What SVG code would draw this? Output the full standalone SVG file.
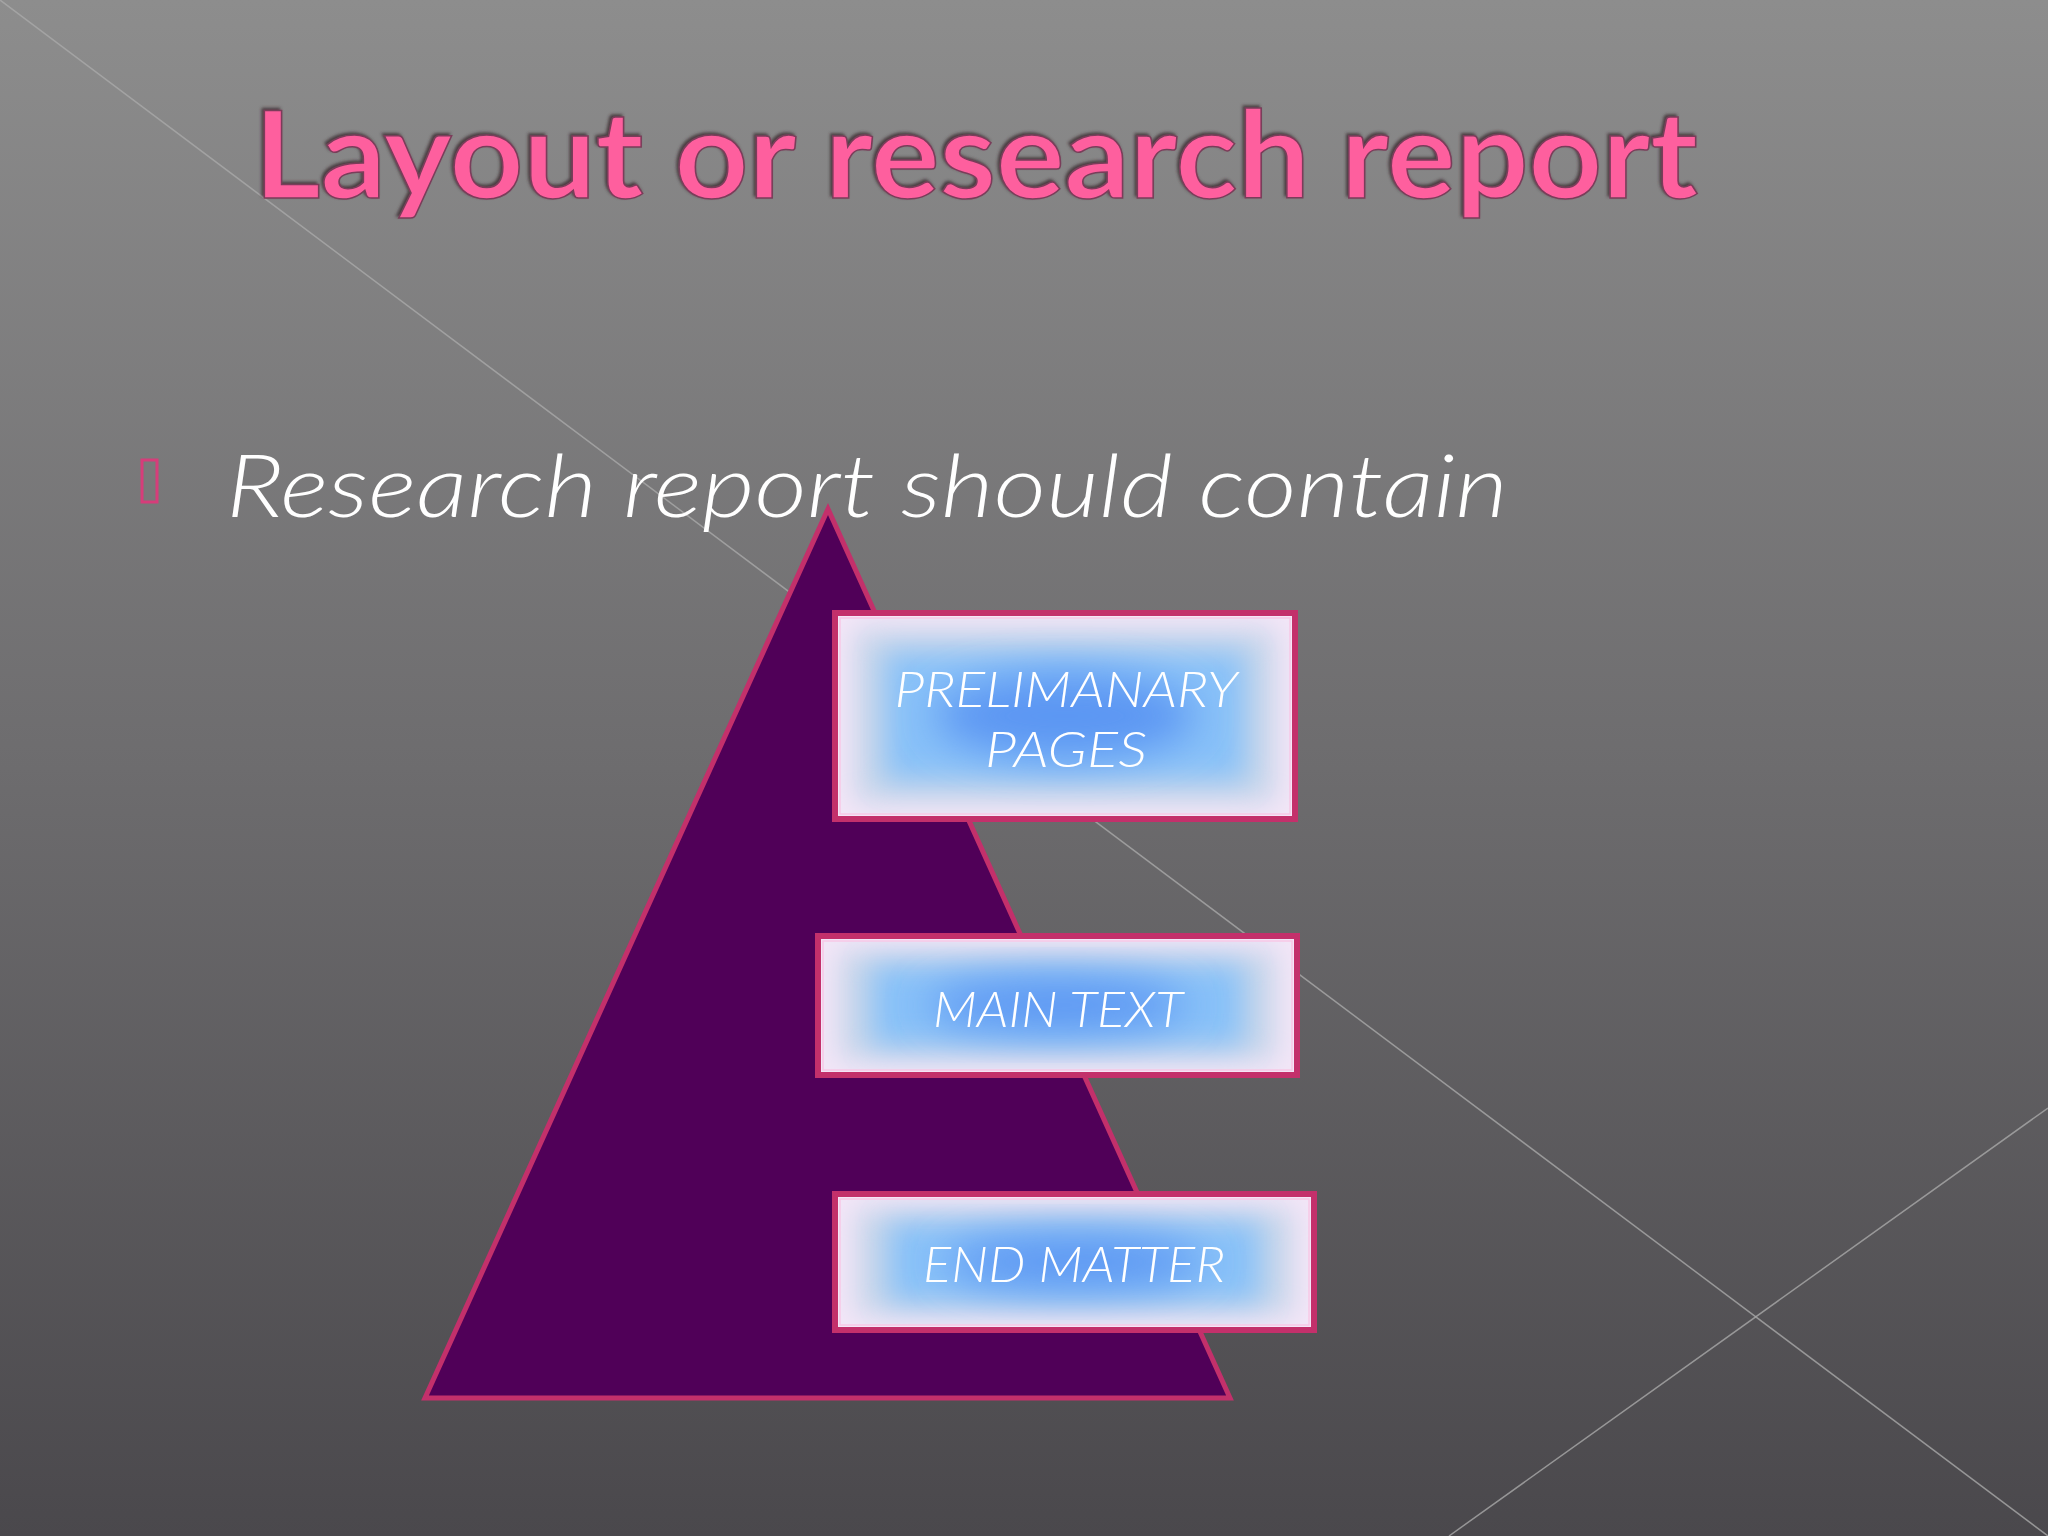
<svg xmlns="http://www.w3.org/2000/svg" width="2048" height="1536" viewBox="0 0 2048 1536">
<defs>
<linearGradient id="bg" x1="0" y1="0" x2="0" y2="1">
<stop offset="0" stop-color="#8d8d8d"/>
<stop offset="0.5" stop-color="#6d6c6e"/>
<stop offset="1" stop-color="#4a484c"/>
</linearGradient>
<filter id="soft" x="-30%" y="-40%" width="160%" height="180%">
<feGaussianBlur stdDeviation="14"/>
</filter>
<filter id="soft2" x="-40%" y="-60%" width="180%" height="220%">
<feGaussianBlur stdDeviation="20"/>
</filter>
<clipPath id="c1"><rect x="840" y="618" width="450" height="196"/></clipPath>
<clipPath id="c2"><rect x="823" y="941" width="469" height="129"/></clipPath>
<clipPath id="c3"><rect x="840" y="1199" width="469" height="126"/></clipPath>
<filter id="tsh" x="-5%" y="-20%" width="110%" height="140%">
<feDropShadow dx="-2" dy="-2" stdDeviation="1.5" flood-color="#3a2a33" flood-opacity="0.8"/>
</filter>
<style>
.diag{stroke:#a9a9a9;stroke-width:1.5;fill:none;opacity:0.8}
.box{fill:#f3e6f7;stroke:#c3306b;stroke-width:6}
.inner{fill:none;stroke:#f7c8e6;stroke-width:1.5}
.gb{fill:#c6d6ea}
.lb{fill:#88c1f8}
.cb{fill:#5b96f3}
.lbl{font-family:"Lato","Open Sans","Liberation Sans",sans-serif;font-style:italic;font-weight:300;font-size:50px;fill:#ffffff;text-anchor:middle}
</style>
</defs>
<rect width="2048" height="1536" fill="url(#bg)"/>
<g id="connectors">
<line class="diag" x1="0" y1="0" x2="2048" y2="1536"/>
<line class="diag" x1="2048" y1="1108" x2="1449" y2="1536"/>
</g>
<g id="title">
<text x="254" y="198" textLength="1444" lengthAdjust="spacingAndGlyphs" font-family="'Lato','DejaVu Sans','Liberation Sans',sans-serif" font-weight="bold" font-size="121" fill="#fe5f9e" stroke="#7a3e5a" stroke-width="1.5" filter="url(#tsh)">Layout or research report</text>
</g>
<g id="bullet">
<rect x="142" y="460" width="15" height="42" fill="none" stroke="#d63d7a" stroke-width="3"/>
<text x="226" y="517" textLength="1282" lengthAdjust="spacingAndGlyphs" font-family="'Lato','Open Sans','Liberation Sans',sans-serif" font-style="italic" font-weight="300" font-size="86" fill="#ffffff">Research report should contain</text>
</g>
<g id="pyramid">
<polygon points="828,509 425,1398 1230,1398" fill="#500058" stroke="#c3306b" stroke-width="5"/>
</g>
<g id="node-preliminary">
<rect class="box" x="835" y="613" width="460" height="206"/>
<g clip-path="url(#c1)">
<rect class="gb" x="855" y="630" width="420" height="172" filter="url(#soft)"/>
<rect class="lb" x="885" y="652" width="360" height="128" filter="url(#soft)"/>
<ellipse class="cb" cx="1065" cy="716" rx="130" ry="42" filter="url(#soft2)"/>
</g>
<rect class="inner" x="840" y="618" width="450" height="196"/>
<text class="lbl" x="1066" y="707" textLength="343" lengthAdjust="spacingAndGlyphs">PRELIMANARY</text>
<text class="lbl" x="1066" y="767" textLength="162" lengthAdjust="spacingAndGlyphs">PAGES</text>
</g>
<g id="node-main">
<rect class="box" x="818" y="936" width="479" height="139"/>
<g clip-path="url(#c2)">
<rect class="gb" x="840" y="951" width="435" height="109" filter="url(#soft)"/>
<rect class="lb" x="872" y="965" width="371" height="81" filter="url(#soft)"/>
<ellipse class="cb" cx="1057" cy="1005" rx="130" ry="26" filter="url(#soft2)"/>
</g>
<rect class="inner" x="823" y="941" width="469" height="129"/>
<text class="lbl" x="1058" y="1027" textLength="250" lengthAdjust="spacingAndGlyphs">MAIN TEXT</text>
</g>
<g id="node-end">
<rect class="box" x="835" y="1194" width="479" height="136"/>
<g clip-path="url(#c3)">
<rect class="gb" x="857" y="1209" width="435" height="106" filter="url(#soft)"/>
<rect class="lb" x="889" y="1222" width="371" height="80" filter="url(#soft)"/>
<ellipse class="cb" cx="1074" cy="1262" rx="130" ry="26" filter="url(#soft2)"/>
</g>
<rect class="inner" x="840" y="1199" width="469" height="126"/>
<text class="lbl" x="1074" y="1282" textLength="302" lengthAdjust="spacingAndGlyphs">END MATTER</text>
</g>
</svg>
